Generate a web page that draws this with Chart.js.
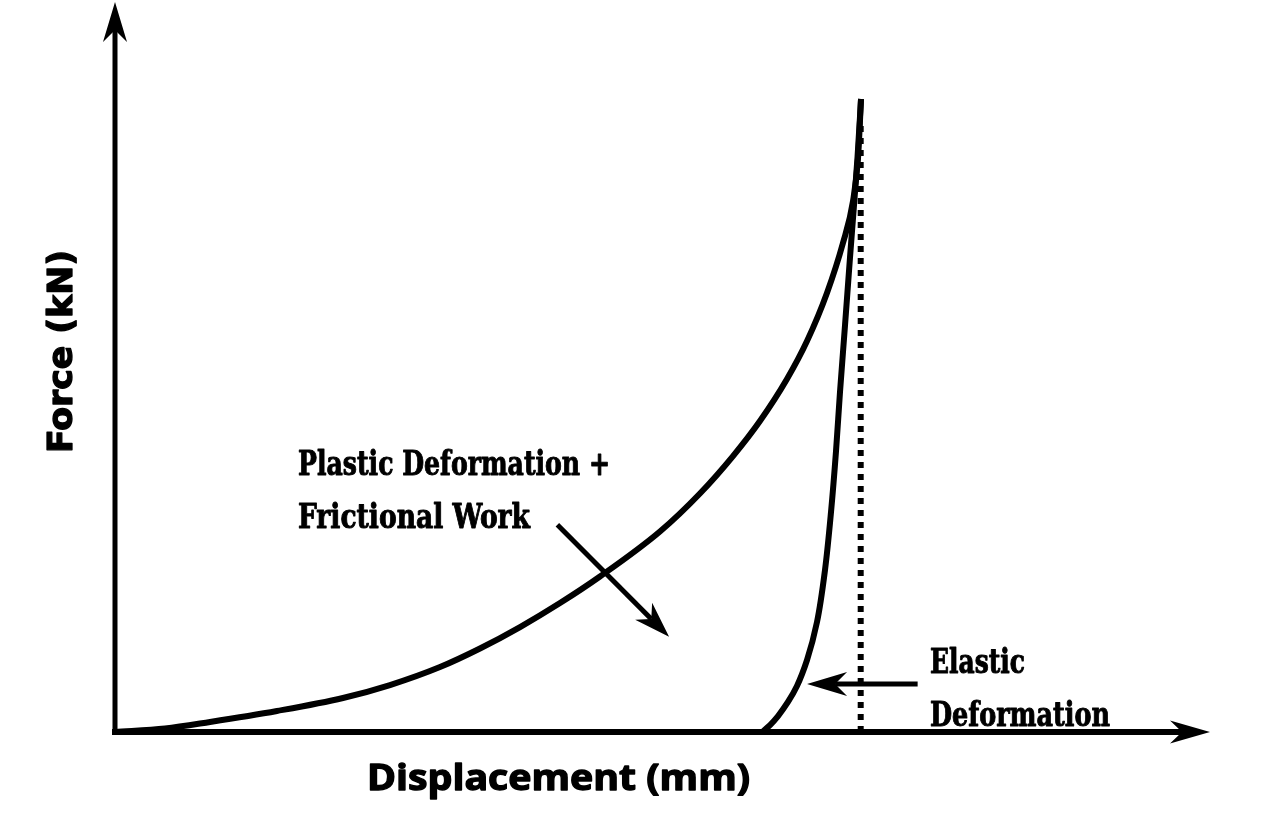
<!DOCTYPE html>
<html>
<head>
<meta charset="utf-8">
<script src="https://cdn.jsdelivr.net/npm/chart.js@4.4.1/dist/chart.umd.min.js"></script>
<style>
  html, body { margin: 0; padding: 0; background: #fff; }
  #wrap { width: 1278px; height: 823px; position: relative; }
</style>
</head>
<body>
<div id="wrap"><canvas id="myChart"></canvas></div>
<script>
    // loading curve (displacement, force) in arbitrary units
    var loadX = [0, 4.57, 8.68, 14.79, 20.82, 25.11, 29.68, 33.33, 36.99, 40.64, 44.29,
        49.77, 53.42, 56.44, 58.90, 61.37, 63.20, 65.02, 66.48, 67.40, 67.85, 68.13];
    var loadY = [0, 0.48, 1.38, 2.89, 4.68, 6.46, 8.94, 11.49, 14.44, 17.74, 21.39,
        27.58, 32.81, 37.96, 42.78, 48.56, 53.78, 60.39, 67.26, 73.04, 78.82, 87.07];

    // unloading curve, from where it meets the x axis up to the peak
    var unloadX = [59.09, 59.82, 60.55, 61.46, 62.28, 63.20, 64.11, 64.84, 65.39, 65.84,
        66.21, 66.67, 67.12, 67.49, 67.81, 68.13];
    var unloadY = [0, 0.96, 2.20, 4.13, 6.33, 9.90, 15.13, 22.28, 30.26, 38.51,
        46.77, 55.98, 65.20, 72.49, 79.09, 87.07];

    // max displacement marker (dotted line)
    var peakX = [68.1, 68.1];
    var peakY = [0, 84];

    var axisLabels = ["Displacement (mm)", "Force (kN)"];
    var noteLines = [["Plastic Deformation +", "Frictional Work"], ["Elastic", "Deformation"]];

    function pts(xs, ys) {
        return xs.map(function (x, i) { return { x: x, y: ys[i] }; });
    }

    // straight line with a barbed arrow head at (x2, y2)
    function arrow(ctx, x1, y1, x2, y2, len, half, lw) {
        var a = Math.atan2(y2 - y1, x2 - x1);
        var c = Math.cos(a), s = Math.sin(a);
        var nx = x2 - c * len * 0.7, ny = y2 - s * len * 0.7;
        ctx.save();
        ctx.lineWidth = lw;
        ctx.strokeStyle = "#000";
        ctx.fillStyle = "#000";
        ctx.beginPath();
        ctx.moveTo(x1, y1);
        ctx.lineTo(nx, ny);
        ctx.stroke();
        ctx.beginPath();
        ctx.moveTo(x2, y2);
        ctx.lineTo(x2 - c * len - s * half, y2 - s * len + c * half);
        ctx.lineTo(nx, ny);
        ctx.lineTo(x2 - c * len + s * half, y2 - s * len - c * half);
        ctx.closePath();
        ctx.fill();
        ctx.restore();
    }

    // draw text squeezed/stretched to a given width, with a thin outline to thicken it
    function fitText(ctx, text, x, y, font, width, stretch, thick) {
        ctx.save();
        ctx.font = font;
        if ("fontStretch" in ctx) ctx.fontStretch = stretch || "normal";
        var w = ctx.measureText(text).width;
        ctx.translate(x, y);
        ctx.scale(width / w, 1);
        ctx.textAlign = "left";
        ctx.textBaseline = "alphabetic";
        ctx.fillStyle = "#000";
        ctx.fillText(text, 0, 0);
        if (thick) {
            ctx.strokeStyle = "#000";
            ctx.lineWidth = thick;
            ctx.lineJoin = "round";
            ctx.strokeText(text, 0, 0);
        }
        ctx.restore();
    }

    var sketchPlugin = {
        id: "sketch",
        afterDatasetsDraw: function (chart) {
            var ctx = chart.ctx;
            var area = chart.chartArea;
            var xs = chart.scales.x, ys = chart.scales.y;
            var x0 = xs.getPixelForValue(0), y0 = ys.getPixelForValue(0);

            // axes with arrow heads
            arrow(ctx, x0, y0 + 3, x0, area.top - 3, 40, 12, 5);
            arrow(ctx, x0 - 3, y0, area.right, y0, 40, 11.5, 6);

            // annotation arrows
            arrow(ctx, xs.getPixelForValue(40.4), ys.getPixelForValue(28.5),
                xs.getPixelForValue(50.6), ys.getPixelForValue(13.1), 36, 12, 5);
            arrow(ctx, xs.getPixelForValue(73.3), ys.getPixelForValue(6.6),
                xs.getPixelForValue(63.2), ys.getPixelForValue(6.6), 40, 12, 5);

            var serif = "bold 33px 'DejaVu Serif', 'Liberation Serif', serif";
            fitText(ctx, noteLines[0][0], 298, 475, serif, 312, "condensed", 0.9);
            fitText(ctx, noteLines[0][1], 298, 528, serif, 232, "condensed", 0.9);
            fitText(ctx, noteLines[1][0], 930, 673, serif, 95, "condensed", 0.9);
            fitText(ctx, noteLines[1][1], 930, 726, serif, 180, "condensed", 0.9);

            fitText(ctx, axisLabels[0], 367, 790, "bold 35px 'Open Sans', 'Noto Sans', sans-serif", 383, "normal", 1.3);

            ctx.save();
            ctx.translate(72, 453);
            ctx.rotate(-Math.PI / 2);
            fitText(ctx, axisLabels[1], 0, 0, "bold 34px 'DejaVu Sans', sans-serif", 203, "normal", 1.3);
            ctx.restore();
        }
    };

    var chart = new Chart(document.getElementById("myChart"), {
        type: "scatter",
        data: {
            datasets: [
                {
                    data: pts(loadX, loadY),
                    showLine: true, borderColor: "#000", borderWidth: 6,
                    pointRadius: 0, cubicInterpolationMode: "monotone", clip: false
                },
                {
                    data: pts(unloadX, unloadY),
                    indexAxis: "y",
                    showLine: true, borderColor: "#000", borderWidth: 6,
                    pointRadius: 0, cubicInterpolationMode: "monotone", clip: false
                },
                {
                    data: pts(peakX, peakY),
                    showLine: true, borderColor: "#000", borderWidth: 6,
                    borderDash: [6, 6], borderCapStyle: "butt",
                    pointRadius: 0, clip: false
                }
            ]
        },
        options: {
            responsive: true,
            maintainAspectRatio: false,
            animation: false,
            layout: { padding: { left: 115, right: 68, top: 5, bottom: 91 } },
            scales: {
                x: { type: "linear", min: 0, max: 100, display: false },
                y: { type: "linear", min: 0, max: 100, display: false }
            },
            plugins: {
                legend: { display: false },
                tooltip: { enabled: false }
            }
        },
        plugins: [sketchPlugin]
    });
</script>
</body>
</html>
